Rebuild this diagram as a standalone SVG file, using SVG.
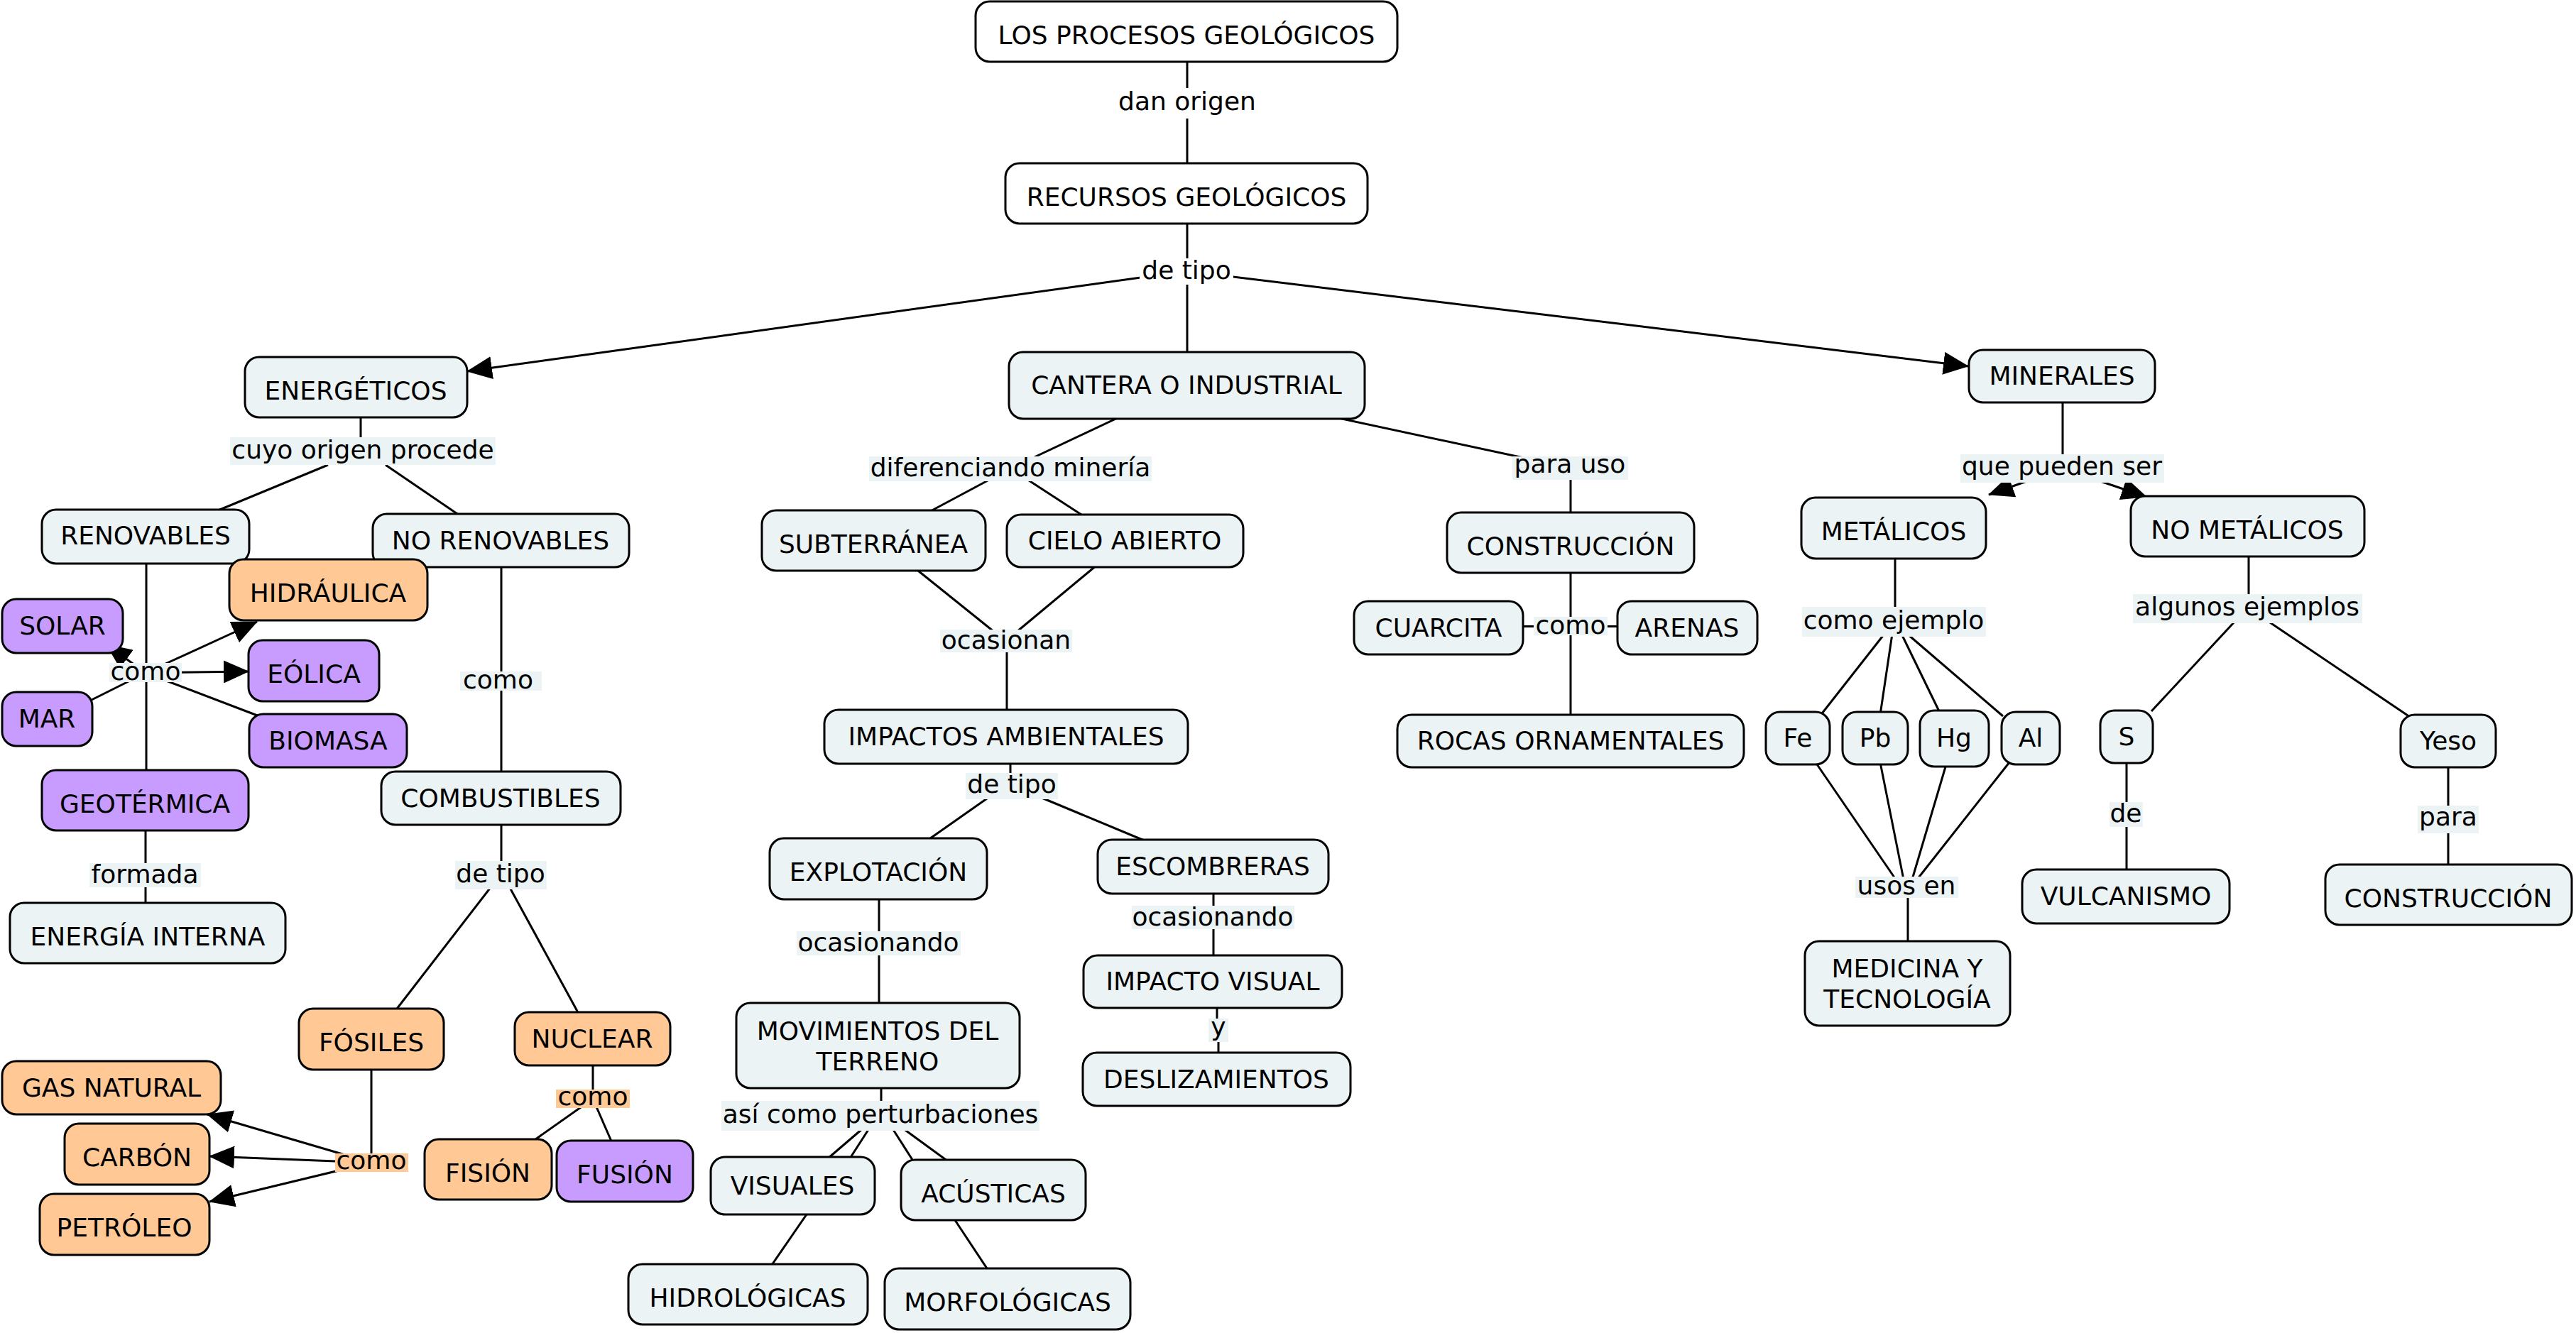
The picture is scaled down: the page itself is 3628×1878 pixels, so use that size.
<svg xmlns="http://www.w3.org/2000/svg" width="3628" height="1878" viewBox="0 0 3628 1878">
<style>
text{font-family:"DejaVu Sans",Verdana,sans-serif;font-size:36px;fill:#000;text-anchor:middle}
.node rect{stroke:#000;stroke-width:3}
.wh{fill:#fff}.lt{fill:#ecf3f4}.or{fill:#ffc894}.pu{fill:#c89bff}
#connectors line{stroke:#000;stroke-width:3;fill:none}
#connectors line.ar{marker-end:url(#ah)}
.lb{fill:#ecf3f4}.lw{fill:#fff}.lo{fill:#ffc894}
</style>
<defs>
<marker id="ah" viewBox="0 0 36 32" refX="35" refY="16" markerWidth="36" markerHeight="32" markerUnits="userSpaceOnUse" orient="auto"><path d="M0,0 L36,16 L0,32 z" fill="#000"/></marker>
</defs>
<rect width="3628" height="1878" fill="#fff"/>
<g id="connectors">
<line x1="1672" y1="87" x2="1672" y2="230"/>
<line x1="1672" y1="315" x2="1672" y2="496"/>
<line class="ar" x1="1671" y1="382" x2="658" y2="523"/>
<line class="ar" x1="1671" y1="382" x2="2772" y2="516"/>
<line x1="508" y1="588" x2="508" y2="636"/>
<line x1="462" y1="655" x2="300" y2="722"/>
<line x1="543" y1="655" x2="650" y2="728"/>
<line x1="206" y1="794" x2="206" y2="1085"/>
<line class="ar" x1="205" y1="948" x2="362" y2="876"/>
<line class="ar" x1="205" y1="948" x2="350" y2="946"/>
<line class="ar" x1="205" y1="948" x2="150" y2="908"/>
<line x1="205" y1="948" x2="125" y2="988"/>
<line x1="205" y1="948" x2="365" y2="1009"/>
<line x1="205" y1="1170" x2="205" y2="1272"/>
<line x1="706" y1="799" x2="706" y2="1087"/>
<line x1="706" y1="1162" x2="706" y2="1233"/>
<line x1="695" y1="1245" x2="556" y2="1425"/>
<line x1="715" y1="1245" x2="816" y2="1430"/>
<line x1="523" y1="1507" x2="523" y2="1638"/>
<line class="ar" x1="523" y1="1638" x2="292" y2="1570"/>
<line class="ar" x1="523" y1="1638" x2="295" y2="1629"/>
<line class="ar" x1="523" y1="1638" x2="295" y2="1693"/>
<line x1="835" y1="1501" x2="835" y2="1548"/>
<line x1="835" y1="1548" x2="750" y2="1608"/>
<line x1="835" y1="1548" x2="862" y2="1610"/>
<line x1="1671" y1="543" x2="1423" y2="660"/>
<line x1="1423" y1="660" x2="1307" y2="722"/>
<line x1="1423" y1="660" x2="1526" y2="727"/>
<line x1="1288" y1="800" x2="1400" y2="890"/>
<line x1="1545" y1="796" x2="1432" y2="890"/>
<line x1="1418" y1="918" x2="1418" y2="1000"/>
<line x1="1423" y1="1075" x2="1423" y2="1095"/>
<line x1="1400" y1="1118" x2="1306" y2="1184"/>
<line x1="1460" y1="1121" x2="1616" y2="1186"/>
<line x1="1238" y1="1267" x2="1238" y2="1413"/>
<line x1="1241" y1="1533" x2="1241" y2="1560"/>
<line x1="1215" y1="1590" x2="1166" y2="1632"/>
<line x1="1224" y1="1590" x2="1197" y2="1632"/>
<line x1="1257" y1="1590" x2="1287" y2="1637"/>
<line x1="1272" y1="1590" x2="1335" y2="1636"/>
<line x1="1138" y1="1708" x2="1085" y2="1785"/>
<line x1="1343" y1="1716" x2="1392" y2="1790"/>
<line x1="1709" y1="1259" x2="1709" y2="1346"/>
<line x1="1714" y1="1420" x2="1714" y2="1450"/>
<line x1="1716" y1="1450" x2="1716" y2="1483"/>
<line x1="1671" y1="543" x2="2211" y2="659"/>
<line x1="2212" y1="676" x2="2212" y2="722"/>
<line x1="2212" y1="807" x2="2212" y2="1007"/>
<line x1="2144" y1="882.5" x2="2279" y2="882.5"/>
<line x1="2905" y1="567" x2="2905" y2="660"/>
<line class="ar" x1="2905" y1="660" x2="2801" y2="697"/>
<line class="ar" x1="2905" y1="660" x2="3023" y2="700"/>
<line x1="2669" y1="786" x2="2669" y2="870"/>
<line x1="2654" y1="893" x2="2563" y2="1009"/>
<line x1="2665" y1="893" x2="2648" y2="1007"/>
<line x1="2678" y1="893" x2="2732" y2="1004"/>
<line x1="2686" y1="893" x2="2821" y2="1009"/>
<line x1="2557" y1="1074" x2="2670" y2="1239"/>
<line x1="2648" y1="1074" x2="2681" y2="1239"/>
<line x1="2741" y1="1077" x2="2693" y2="1239"/>
<line x1="2830" y1="1074" x2="2700" y2="1239"/>
<line x1="2687" y1="1255" x2="2687" y2="1326"/>
<line x1="3167" y1="784" x2="3167" y2="850"/>
<line x1="3148" y1="875" x2="3030" y2="1002"/>
<line x1="3194" y1="875" x2="3394" y2="1010"/>
<line x1="2995" y1="1075" x2="2995" y2="1225"/>
<line x1="3448" y1="1080" x2="3448" y2="1218"/>
</g>
<g id="labels">
<rect class="lw" x="1575" y="124" width="194" height="43"/><text x="1672" y="155">dan origen</text>
<rect class="lw" x="1605" y="364" width="132" height="37"/><text x="1671" y="393">de tipo</text>
<rect class="lb" x="324" y="616" width="374" height="39"/><text x="511" y="646">cuyo origen procede</text>
<rect class="lb" x="154" y="934" width="102" height="27"/><text x="205" y="958">como</text>
<rect class="lb" x="648" y="946" width="115" height="27"/><text x="652" y="970" style="text-anchor:start">como</text>
<rect class="lb" x="126" y="1216" width="157" height="34"/><text x="204" y="1244">formada</text>
<rect class="lb" x="641" y="1213" width="129" height="40"/><text x="705" y="1243">de tipo</text>
<rect class="lo" x="472" y="1625" width="103" height="26"/><text x="523" y="1647">como</text>
<rect class="lo" x="783" y="1535" width="104" height="26"/><text x="835" y="1557">como</text>
<rect class="lb" x="1224" y="643" width="398" height="35"/><text x="1423" y="671">diferenciando minería</text>
<rect class="lb" x="1324" y="887" width="186" height="32"/><text x="1417" y="914">ocasionan</text>
<rect class="lb" x="1360" y="1089" width="130" height="37"/><text x="1425" y="1117">de tipo</text>
<rect class="lb" x="1122" y="1312" width="231" height="34"/><text x="1237" y="1340">ocasionando</text>
<rect class="lb" x="1016" y="1551" width="448" height="42"/><text x="1240" y="1582">así como perturbaciones</text>
<rect class="lb" x="1594" y="1276" width="229" height="33"/><text x="1708" y="1304">ocasionando</text>
<rect class="lb" x="1702" y="1435" width="28" height="33"/><text x="1716" y="1459">y</text>
<rect class="lb" x="2130" y="643" width="163" height="33"/><text x="2211" y="666">para uso</text>
<rect class="lb" x="2160" y="869" width="104" height="26"/><text x="2212" y="893">como</text>
<rect class="lb" x="2761" y="640" width="287" height="40"/><text x="2904" y="669">que pueden ser</text>
<rect class="lb" x="2538" y="855" width="259" height="42"/><text x="2667" y="886">como ejemplo</text>
<rect class="lb" x="3004" y="837" width="323" height="41"/><text x="3165" y="867">algunos ejemplos</text>
<rect class="lb" x="2613" y="1235" width="145" height="30"/><text x="2685" y="1260">usos en</text>
<rect class="lb" x="2971" y="1130" width="47" height="35"/><text x="2994" y="1158">de</text>
<rect class="lb" x="3405" y="1135" width="86" height="39"/><text x="3448" y="1163">para</text>
</g>
<g id="n_procesos" class="node"><rect class="wh" x="1374" y="2" width="594" height="85" rx="20"/><text x="1671" y="62">LOS PROCESOS GEOLÓGICOS</text></g>
<g id="n_recursos" class="node"><rect class="wh" x="1416" y="230" width="510" height="85" rx="20"/><text x="1671" y="290">RECURSOS GEOLÓGICOS</text></g>
<g id="n_energeticos" class="node"><rect class="lt" x="345" y="503" width="313" height="85" rx="20"/><text x="501" y="563">ENERGÉTICOS</text></g>
<g id="n_cantera" class="node"><rect class="lt" x="1421" y="496" width="501" height="94" rx="20"/><text x="1671" y="555">CANTERA O INDUSTRIAL</text></g>
<g id="n_minerales" class="node"><rect class="lt" x="2773" y="493" width="262" height="74" rx="20"/><text x="2904" y="542">MINERALES</text></g>
<g id="n_renovables" class="node"><rect class="lt" x="59" y="718" width="292" height="76" rx="20"/><text x="205" y="767">RENOVABLES</text></g>
<g id="n_norenovables" class="node"><rect class="lt" x="525" y="724" width="361" height="75" rx="20"/><text x="705" y="774">NO RENOVABLES</text></g>
<g id="n_hidraulica" class="node"><rect class="or" x="323" y="788" width="279" height="86" rx="20"/><text x="462" y="848">HIDRÁULICA</text></g>
<g id="n_solar" class="node"><rect class="pu" x="3" y="844" width="170" height="76" rx="20"/><text x="88" y="894">SOLAR</text></g>
<g id="n_eolica" class="node"><rect class="pu" x="350" y="902" width="184" height="86" rx="20"/><text x="442" y="962">EÓLICA</text></g>
<g id="n_mar" class="node"><rect class="pu" x="3" y="975" width="127" height="76" rx="20"/><text x="66" y="1025">MAR</text></g>
<g id="n_biomasa" class="node"><rect class="pu" x="351" y="1006" width="222" height="75" rx="20"/><text x="462" y="1056">BIOMASA</text></g>
<g id="n_geotermica" class="node"><rect class="pu" x="59" y="1085" width="291" height="85" rx="20"/><text x="204" y="1145">GEOTÉRMICA</text></g>
<g id="n_energiainterna" class="node"><rect class="lt" x="14" y="1272" width="388" height="85" rx="20"/><text x="208" y="1332">ENERGÍA INTERNA</text></g>
<g id="n_combustibles" class="node"><rect class="lt" x="537" y="1087" width="337" height="75" rx="20"/><text x="705" y="1137">COMBUSTIBLES</text></g>
<g id="n_fosiles" class="node"><rect class="or" x="421" y="1421" width="204" height="86" rx="20"/><text x="523" y="1481">FÓSILES</text></g>
<g id="n_nuclear" class="node"><rect class="or" x="725" y="1426" width="219" height="75" rx="20"/><text x="834" y="1476">NUCLEAR</text></g>
<g id="n_gasnatural" class="node"><rect class="or" x="3" y="1495" width="308" height="75" rx="20"/><text x="157" y="1545">GAS NATURAL</text></g>
<g id="n_carbon" class="node"><rect class="or" x="91" y="1583" width="204" height="86" rx="20"/><text x="193" y="1643">CARBÓN</text></g>
<g id="n_petroleo" class="node"><rect class="or" x="56" y="1682" width="239" height="86" rx="20"/><text x="175" y="1742">PETRÓLEO</text></g>
<g id="n_fision" class="node"><rect class="or" x="598" y="1605" width="179" height="85" rx="20"/><text x="687" y="1665">FISIÓN</text></g>
<g id="n_fusion" class="node"><rect class="pu" x="784" y="1607" width="192" height="86" rx="20"/><text x="880" y="1667">FUSIÓN</text></g>
<g id="n_subterranea" class="node"><rect class="lt" x="1073" y="719" width="315" height="85" rx="20"/><text x="1230" y="779">SUBTERRÁNEA</text></g>
<g id="n_cieloabierto" class="node"><rect class="lt" x="1418" y="725" width="333" height="74" rx="20"/><text x="1584" y="774">CIELO ABIERTO</text></g>
<g id="n_impactos" class="node"><rect class="lt" x="1161" y="1000" width="512" height="76" rx="20"/><text x="1417" y="1050">IMPACTOS AMBIENTALES</text></g>
<g id="n_explotacion" class="node"><rect class="lt" x="1084" y="1181" width="306" height="86" rx="20"/><text x="1237" y="1241">EXPLOTACIÓN</text></g>
<g id="n_escombreras" class="node"><rect class="lt" x="1546" y="1183" width="325" height="76" rx="20"/><text x="1708" y="1233">ESCOMBRERAS</text></g>
<g id="n_movimientos" class="node"><rect class="lt" x="1037" y="1413" width="399" height="120" rx="20"/><text x="1236" y="1465">MOVIMIENTOS DEL</text><text x="1236" y="1508">TERRENO</text></g>
<g id="n_visuales" class="node"><rect class="lt" x="1001" y="1630" width="231" height="81" rx="20"/><text x="1116" y="1683">VISUALES</text></g>
<g id="n_acusticas" class="node"><rect class="lt" x="1269" y="1634" width="260" height="85" rx="20"/><text x="1399" y="1694">ACÚSTICAS</text></g>
<g id="n_hidrologicas" class="node"><rect class="lt" x="885" y="1781" width="337" height="85" rx="20"/><text x="1053" y="1841">HIDROLÓGICAS</text></g>
<g id="n_morfologicas" class="node"><rect class="lt" x="1246" y="1787" width="346" height="86" rx="20"/><text x="1419" y="1847">MORFOLÓGICAS</text></g>
<g id="n_impactovisual" class="node"><rect class="lt" x="1526" y="1346" width="364" height="74" rx="20"/><text x="1708" y="1395">IMPACTO VISUAL</text></g>
<g id="n_deslizamientos" class="node"><rect class="lt" x="1525" y="1483" width="377" height="75" rx="20"/><text x="1713" y="1533">DESLIZAMIENTOS</text></g>
<g id="n_construccion1" class="node"><rect class="lt" x="2038" y="722" width="348" height="85" rx="20"/><text x="2212" y="782">CONSTRUCCIÓN</text></g>
<g id="n_cuarcita" class="node"><rect class="lt" x="1907" y="847" width="238" height="75" rx="20"/><text x="2026" y="897">CUARCITA</text></g>
<g id="n_arenas" class="node"><rect class="lt" x="2278" y="847" width="197" height="75" rx="20"/><text x="2376" y="897">ARENAS</text></g>
<g id="n_rocas" class="node"><rect class="lt" x="1968" y="1007" width="488" height="74" rx="20"/><text x="2212" y="1056">ROCAS ORNAMENTALES</text></g>
<g id="n_metalicos" class="node"><rect class="lt" x="2537" y="701" width="260" height="86" rx="20"/><text x="2667" y="761">METÁLICOS</text></g>
<g id="n_nometalicos" class="node"><rect class="lt" x="3001" y="699" width="329" height="85" rx="20"/><text x="3165" y="759">NO METÁLICOS</text></g>
<g id="n_fe" class="node"><rect class="lt" x="2487" y="1003" width="90" height="74" rx="20"/><text x="2532" y="1052">Fe</text></g>
<g id="n_pb" class="node"><rect class="lt" x="2595" y="1003" width="92" height="74" rx="20"/><text x="2641" y="1052">Pb</text></g>
<g id="n_hg" class="node"><rect class="lt" x="2704" y="1001" width="97" height="79" rx="20"/><text x="2752" y="1052">Hg</text></g>
<g id="n_al" class="node"><rect class="lt" x="2819" y="1003" width="82" height="74" rx="20"/><text x="2860" y="1052">Al</text></g>
<g id="n_medicina" class="node"><rect class="lt" x="2542" y="1326" width="289" height="119" rx="20"/><text x="2686" y="1377">MEDICINA Y</text><text x="2686" y="1420">TECNOLOGÍA</text></g>
<g id="n_s" class="node"><rect class="lt" x="2958" y="1001" width="74" height="74" rx="20"/><text x="2995" y="1050">S</text></g>
<g id="n_yeso" class="node"><rect class="lt" x="3381" y="1007" width="134" height="74" rx="20"/><text x="3448" y="1056">Yeso</text></g>
<g id="n_vulcanismo" class="node"><rect class="lt" x="2848" y="1225" width="292" height="76" rx="20"/><text x="2994" y="1275">VULCANISMO</text></g>
<g id="n_construccion2" class="node"><rect class="lt" x="3275" y="1218" width="347" height="85" rx="20"/><text x="3448" y="1278">CONSTRUCCIÓN</text></g>
</svg>
